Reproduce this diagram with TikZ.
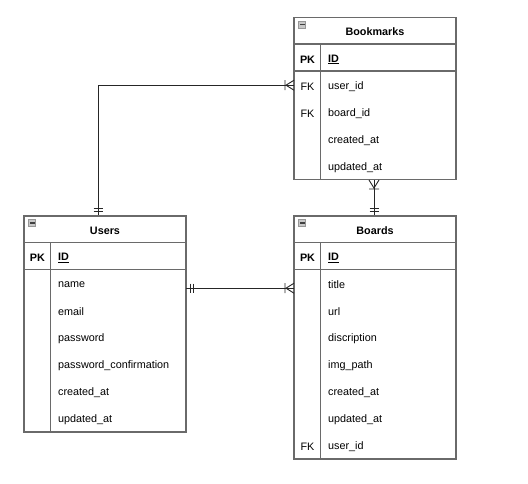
\documentclass[tikz,border=0pt]{standalone}
\usepackage{fontspec}
\setmainfont{Liberation Sans}
\definecolor{boxc}{HTML}{6A6A6A}
\definecolor{iconc}{HTML}{C8C8C8}
\begin{document}
\begin{tikzpicture}[x=1pt,y=-1pt,
  every node/.style={font=\fontsize{10.8}{13}\selectfont},
  entity/.style={draw=boxc, line width=1.05pt, rectangle, inner sep=0pt, minimum width=162pt},
  sepline/.style={draw=boxc, line width=1.05pt},
  fieldrow/.style={rectangle, inner sep=0pt, minimum width=162pt, minimum height=27pt, anchor=north west},
  field/.style={anchor=west, inner sep=0pt, yshift=-1.2pt},
  keytxt/.style={inner sep=0pt, yshift=-1.2pt},
  titletxt/.style={inner sep=0pt, yshift=-1pt, font=\fontsize{10.8}{13}\selectfont\bfseries},
  conn/.style={draw=black!85, line width=0.9pt},
  ermark/.style={draw=black!85, line width=0.9pt},
  ermany/.pic={\draw[ermark] (8,0) -- (0,5) (8,0) -- (0,-5) (9,-5) -- (9,5);},
  erone/.pic={\draw[ermark] (4,-4.5) -- (4,4.5) (7,-4.5) -- (7,4.5);},
  minusicon/.pic={\fill[iconc] (0,0) rectangle (7,7); \draw[boxc!70!white, line width=0.4pt] (0,0) rectangle (7,7); \fill[black!75] (1,2.8) rectangle (6,4.4);}
]
\useasboundingbox (0,0) rectangle (528,483);
\fill[white] (0,0) rectangle (528,483);

% ---------------- Bookmarks ----------------
\node[entity, minimum height=162pt] (bookmarks) at (375,98.5) {};
\draw[sepline] ([yshift=-27pt]bookmarks.north west) -- ([yshift=-27pt]bookmarks.north east);
\draw[sepline] ([yshift=-54pt]bookmarks.north west) -- ([yshift=-54pt]bookmarks.north east);
\draw[sepline] ([xshift=27pt,yshift=-27pt]bookmarks.north west) -- ([xshift=27pt]bookmarks.south west);
\pic at (298.5,21) {minusicon};
\node[titletxt] (bmtitle) at (375,31) {Bookmarks};
\node[fieldrow] (bm0) at (294,44.5) {};
\node[keytxt, font=\fontsize{10.8}{13}\selectfont\bfseries] at ([xshift=13.5pt]bm0.west) {PK};
\node[field, font=\fontsize{10.8}{13}\selectfont\bfseries] at ([xshift=34pt]bm0.west) {\underline{ID}};
\node[fieldrow] (bm1) at (294,71.5) {};
\node[keytxt] at ([xshift=13.5pt]bm1.west) {FK};
\node[field] at ([xshift=34pt]bm1.west) {user\_id};
\node[fieldrow] (bm2) at (294,98.5) {};
\node[keytxt] at ([xshift=13.5pt]bm2.west) {FK};
\node[field] at ([xshift=34pt]bm2.west) {board\_id};
\node[fieldrow] (bm3) at (294,125.5) {};
\node[field] at ([xshift=34pt]bm3.west) {created\_at};
\node[fieldrow] (bm4) at (294,152.5) {};
\node[field] at ([xshift=34pt]bm4.west) {updated\_at};

% ---------------- Users ----------------
\node[entity, minimum height=216pt] (users) at (105,324) {};
\draw[sepline] ([yshift=-27pt]users.north west) -- ([yshift=-27pt]users.north east);
\draw[sepline] ([yshift=-54pt]users.north west) -- ([yshift=-54pt]users.north east);
\draw[sepline] ([xshift=27pt,yshift=-27pt]users.north west) -- ([xshift=27pt]users.south west);
\pic at (28.5,219.5) {minusicon};
\node[titletxt] (utitle) at (105,229.5) {Users};
\node[fieldrow] (u0) at (24,243) {};
\node[keytxt, font=\fontsize{10.8}{13}\selectfont\bfseries] at ([xshift=13.5pt]u0.west) {PK};
\node[field, font=\fontsize{10.8}{13}\selectfont\bfseries] at ([xshift=34pt]u0.west) {\underline{ID}};
\node[fieldrow] (u1) at (24,270) {};
\node[field] at ([xshift=34pt]u1.west) {name};
\node[fieldrow] (u2) at (24,297) {};
\node[field] at ([xshift=34pt]u2.west) {email};
\node[fieldrow] (u3) at (24,324) {};
\node[field] at ([xshift=34pt]u3.west) {password};
\node[fieldrow] (u4) at (24,351) {};
\node[field] at ([xshift=34pt]u4.west) {password\_confirmation};
\node[fieldrow] (u5) at (24,378) {};
\node[field] at ([xshift=34pt]u5.west) {created\_at};
\node[fieldrow] (u6) at (24,405) {};
\node[field] at ([xshift=34pt]u6.west) {updated\_at};

% ---------------- Boards ----------------
\node[entity, minimum height=243pt] (boards) at (375,337.5) {};
\draw[sepline] ([yshift=-27pt]boards.north west) -- ([yshift=-27pt]boards.north east);
\draw[sepline] ([yshift=-54pt]boards.north west) -- ([yshift=-54pt]boards.north east);
\draw[sepline] ([xshift=27pt,yshift=-27pt]boards.north west) -- ([xshift=27pt]boards.south west);
\pic at (298.5,219.5) {minusicon};
\node[titletxt] (btitle) at (375,229.5) {Boards};
\node[fieldrow] (b0) at (294,243) {};
\node[keytxt, font=\fontsize{10.8}{13}\selectfont\bfseries] at ([xshift=13.5pt]b0.west) {PK};
\node[field, font=\fontsize{10.8}{13}\selectfont\bfseries] at ([xshift=34pt]b0.west) {\underline{ID}};
\node[fieldrow] (b1) at (294,270) {};
\node[field] at ([xshift=34pt]b1.west) {title};
\node[fieldrow] (b2) at (294,297) {};
\node[field] at ([xshift=34pt]b2.west) {url};
\node[fieldrow] (b3) at (294,324) {};
\node[field] at ([xshift=34pt]b3.west) {discription};
\node[fieldrow] (b4) at (294,351) {};
\node[field] at ([xshift=34pt]b4.west) {img\_path};
\node[fieldrow] (b5) at (294,378) {};
\node[field] at ([xshift=34pt]b5.west) {created\_at};
\node[fieldrow] (b6) at (294,405) {};
\node[field] at ([xshift=34pt]b6.west) {updated\_at};
\node[fieldrow] (b7) at (294,432) {};
\node[keytxt] at ([xshift=13.5pt]b7.west) {FK};
\node[field] at ([xshift=34pt]b7.west) {user\_id};

% ---------------- Connectors ----------------
\draw[conn] (bm1.west) -| ([xshift=-7pt]users.north);
\pic[rotate=180] at (bm1.west) {ermany};
\pic[rotate=90] at ([xshift=-7pt]users.north) {erone};

\draw[conn] ([yshift=-4.5pt]u1.east) -- ([yshift=-4.5pt]b1.west);
\pic at ([yshift=-4.5pt]u1.east) {erone};
\pic[rotate=180] at ([yshift=-4.5pt]b1.west) {ermany};

\draw[conn] ([xshift=-1pt]bookmarks.south) -- ([xshift=-1pt]boards.north);
\pic[rotate=-90] at ([xshift=-1pt]bookmarks.south) {ermany};
\pic[rotate=90] at ([xshift=-1pt]boards.north) {erone};
\end{tikzpicture}
\end{document}
